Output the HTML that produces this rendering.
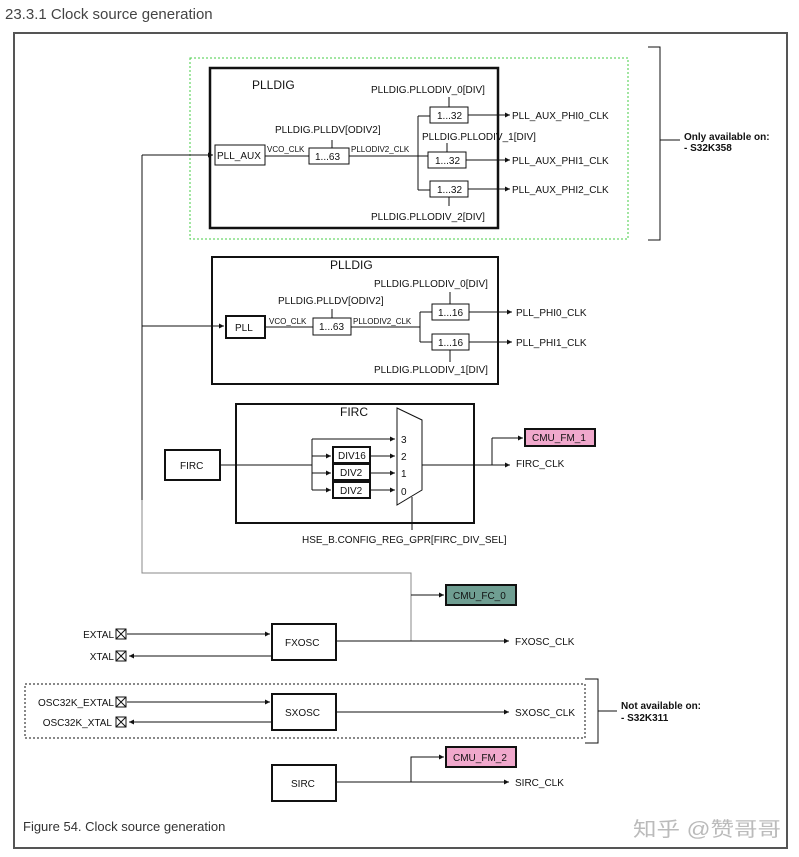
<!DOCTYPE html>
<html><head><meta charset="utf-8"><style>
body{margin:0;background:#fff}
svg{display:block}
text{font-family:"Liberation Sans","Noto Sans CJK SC",sans-serif;fill:#111}
.s{font-size:10px}.xs{font-size:8px}
</style></head><body>
<svg width="799" height="857" viewBox="0 0 799 857" xmlns="http://www.w3.org/2000/svg">
<defs><marker id="a" markerWidth="6" markerHeight="6" refX="5" refY="3" orient="auto" markerUnits="userSpaceOnUse"><path d="M0,0.5 L5,3 L0,5.5z" fill="#111"/></marker></defs>
<text x="5" y="19" style="font-size:15px;fill:#444">23.3.1  Clock source generation</text>
<rect x="14" y="33" width="773" height="815" fill="none" stroke="#555" stroke-width="2"/>
<g fill="none" stroke="#111" stroke-width="1">
<rect x="190" y="58" width="438" height="181" stroke="#4c4" stroke-dasharray="2,2"/>
<rect x="210" y="68" width="288" height="160" stroke-width="2.5"/>
<rect x="215" y="145" width="50" height="20"/>
<rect x="309" y="148" width="40" height="16"/>
<rect x="430" y="107" width="38" height="16"/>
<rect x="428" y="152" width="38" height="16"/>
<rect x="430" y="181" width="38" height="16"/>
<path d="M265 156H309M349 156H428M418 116V190M418 116H430M418 190H430M449 97V107M447 143V152M449 197V206"/>
<path d="M468 115H510" marker-end="url(#a)"/>
<path d="M466 160H510" marker-end="url(#a)"/>
<path d="M468 189H510" marker-end="url(#a)"/>
<path d="M332 140V148"/>
<path d="M648 47H660V240H648M660 140H680"/>
<path d="M142 155H213" marker-end="url(#a)"/>
<path d="M142 155V500"/>
<path d="M142 326H224" marker-end="url(#a)"/>
<path d="M142 500V573H411V641" stroke="#888"/>
<rect x="212" y="257" width="286" height="127" stroke-width="2"/>
<rect x="226" y="316" width="39" height="22" stroke-width="2"/>
<rect x="313" y="318" width="38" height="17"/>
<rect x="432" y="304" width="37" height="16"/>
<rect x="432" y="334" width="37" height="16"/>
<path d="M265 327H313M351 327H420M420 312V342M420 312H432M420 342H432M332 309V318M450 292V304M450 350V362"/>
<path d="M469 312H512" marker-end="url(#a)"/>
<path d="M469 342H512" marker-end="url(#a)"/>
<rect x="236" y="404" width="238" height="119" stroke-width="2"/>
<rect x="165" y="450" width="55" height="30" stroke-width="2"/>
<path d="M220 465H312M312 439V490"/>
<path d="M312 439H395" marker-end="url(#a)"/>
<path d="M312 456H331" marker-end="url(#a)"/>
<path d="M312 473H331" marker-end="url(#a)"/>
<path d="M312 490H331" marker-end="url(#a)"/>
<path d="M370 456H395" marker-end="url(#a)"/>
<path d="M370 473H395" marker-end="url(#a)"/>
<path d="M370 490H395" marker-end="url(#a)"/>
<rect x="333" y="447" width="37" height="16" stroke-width="2"/>
<rect x="333" y="464" width="37" height="16" stroke-width="2"/>
<rect x="333" y="482" width="37" height="16" stroke-width="2"/>
<path d="M397 408L422 420V490L397 505Z"/>
<path d="M422 465H492M412 497V530M492 465V438"/>
<path d="M492 438H523" marker-end="url(#a)"/>
<path d="M492 465H510" marker-end="url(#a)"/>
<path d="M411 595H444" marker-end="url(#a)"/>
<rect x="272" y="624" width="64" height="36" stroke-width="2"/>
<path d="M127 634H270" marker-end="url(#a)"/>
<path d="M336 641H509" marker-end="url(#a)"/>
<path d="M272 656H129" marker-end="url(#a)"/>
<rect x="116" y="629" width="10" height="10"/><path d="M116 629L126 639M126 629L116 639"/>
<rect x="116" y="651" width="10" height="10"/><path d="M116 651L126 661M126 651L116 661"/>
<rect x="25" y="684" width="560" height="54" stroke-dasharray="2,2"/>
<path d="M585 679H598V743H585M598 711H617"/>
<rect x="272" y="694" width="64" height="36" stroke-width="2"/>
<path d="M127 702H270" marker-end="url(#a)"/>
<path d="M336 712H509" marker-end="url(#a)"/>
<path d="M272 722H129" marker-end="url(#a)"/>
<rect x="116" y="697" width="10" height="10"/><path d="M116 697L126 707M126 697L116 707"/>
<rect x="116" y="717" width="10" height="10"/><path d="M116 717L126 727M126 717L116 727"/>
<rect x="272" y="765" width="64" height="36" stroke-width="2"/>
<path d="M336 782H509" marker-end="url(#a)"/>
<path d="M411 782V757H444" marker-end="url(#a)"/>
</g>
<rect x="525" y="429" width="70" height="17" fill="#f0a8cc" stroke="#111" stroke-width="2"/>
<rect x="446" y="585" width="70" height="20" fill="#6f9e92" stroke="#111" stroke-width="2"/>
<rect x="446" y="747" width="70" height="20" fill="#f0a8cc" stroke="#111" stroke-width="2"/>
<text x="252" y="89" style="font-size:12px">PLLDIG</text>
<text x="371" y="93" class="s">PLLDIG.PLLODIV_0[DIV]</text>
<text x="275" y="133" class="s">PLLDIG.PLLDV[ODIV2]</text>
<text x="422" y="140" class="s">PLLDIG.PLLODIV_1[DIV]</text>
<text x="371" y="220" class="s">PLLDIG.PLLODIV_2[DIV]</text>
<text x="217" y="159" class="s">PLL_AUX</text>
<text x="267" y="152" class="xs">VCO_CLK</text>
<text x="315" y="160" class="s">1...63</text>
<text x="351" y="152" class="xs">PLLODIV2_CLK</text>
<text x="437" y="119" class="s">1...32</text>
<text x="435" y="164" class="s">1...32</text>
<text x="437" y="193" class="s">1...32</text>
<text x="512" y="119" class="s">PLL_AUX_PHI0_CLK</text>
<text x="512" y="164" class="s">PLL_AUX_PHI1_CLK</text>
<text x="512" y="193" class="s">PLL_AUX_PHI2_CLK</text>
<text x="684" y="140" class="s" style="font-weight:bold">Only available on:</text>
<text x="684" y="151" class="s" style="font-weight:bold">- S32K358</text>
<text x="330" y="269" style="font-size:12px">PLLDIG</text>
<text x="374" y="287" class="s">PLLDIG.PLLODIV_0[DIV]</text>
<text x="278" y="304" class="s">PLLDIG.PLLDV[ODIV2]</text>
<text x="374" y="373" class="s">PLLDIG.PLLODIV_1[DIV]</text>
<text x="235" y="331" class="s">PLL</text>
<text x="269" y="324" class="xs">VCO_CLK</text>
<text x="319" y="330" class="s">1...63</text>
<text x="353" y="324" class="xs">PLLODIV2_CLK</text>
<text x="438" y="316" class="s">1...16</text>
<text x="438" y="346" class="s">1...16</text>
<text x="516" y="316" class="s">PLL_PHI0_CLK</text>
<text x="516" y="346" class="s">PLL_PHI1_CLK</text>
<text x="340" y="416" style="font-size:12px">FIRC</text>
<text x="180" y="469" class="s">FIRC</text>
<text x="338" y="459" class="s">DIV16</text>
<text x="340" y="476" class="s">DIV2</text>
<text x="340" y="494" class="s">DIV2</text>
<text x="401" y="443" class="s">3</text>
<text x="401" y="460" class="s">2</text>
<text x="401" y="477" class="s">1</text>
<text x="401" y="495" class="s">0</text>
<text x="532" y="441" class="s">CMU_FM_1</text>
<text x="516" y="467" class="s">FIRC_CLK</text>
<text x="302" y="543" class="s">HSE_B.CONFIG_REG_GPR[FIRC_DIV_SEL]</text>
<text x="453" y="599" class="s">CMU_FC_0</text>
<text x="114" y="638" class="s" text-anchor="end">EXTAL</text>
<text x="114" y="660" class="s" text-anchor="end">XTAL</text>
<text x="285" y="646" class="s">FXOSC</text>
<text x="515" y="645" class="s">FXOSC_CLK</text>
<text x="114" y="706" class="s" text-anchor="end">OSC32K_EXTAL</text>
<text x="112" y="726" class="s" text-anchor="end">OSC32K_XTAL</text>
<text x="285" y="716" class="s">SXOSC</text>
<text x="515" y="716" class="s">SXOSC_CLK</text>
<text x="621" y="709" class="s" style="font-weight:bold">Not available on:</text>
<text x="621" y="721" class="s" style="font-weight:bold">- S32K311</text>
<text x="453" y="761" class="s">CMU_FM_2</text>
<text x="291" y="787" class="s">SIRC</text>
<text x="515" y="786" class="s">SIRC_CLK</text>
<text x="23" y="831" style="font-size:13px;fill:#333">Figure 54.  Clock source generation</text>
<text x="633" y="836" textLength="148" lengthAdjust="spacingAndGlyphs" style="font-size:20px;fill:#bbb">知乎 @赞哥哥</text>
</svg>
</body></html>
